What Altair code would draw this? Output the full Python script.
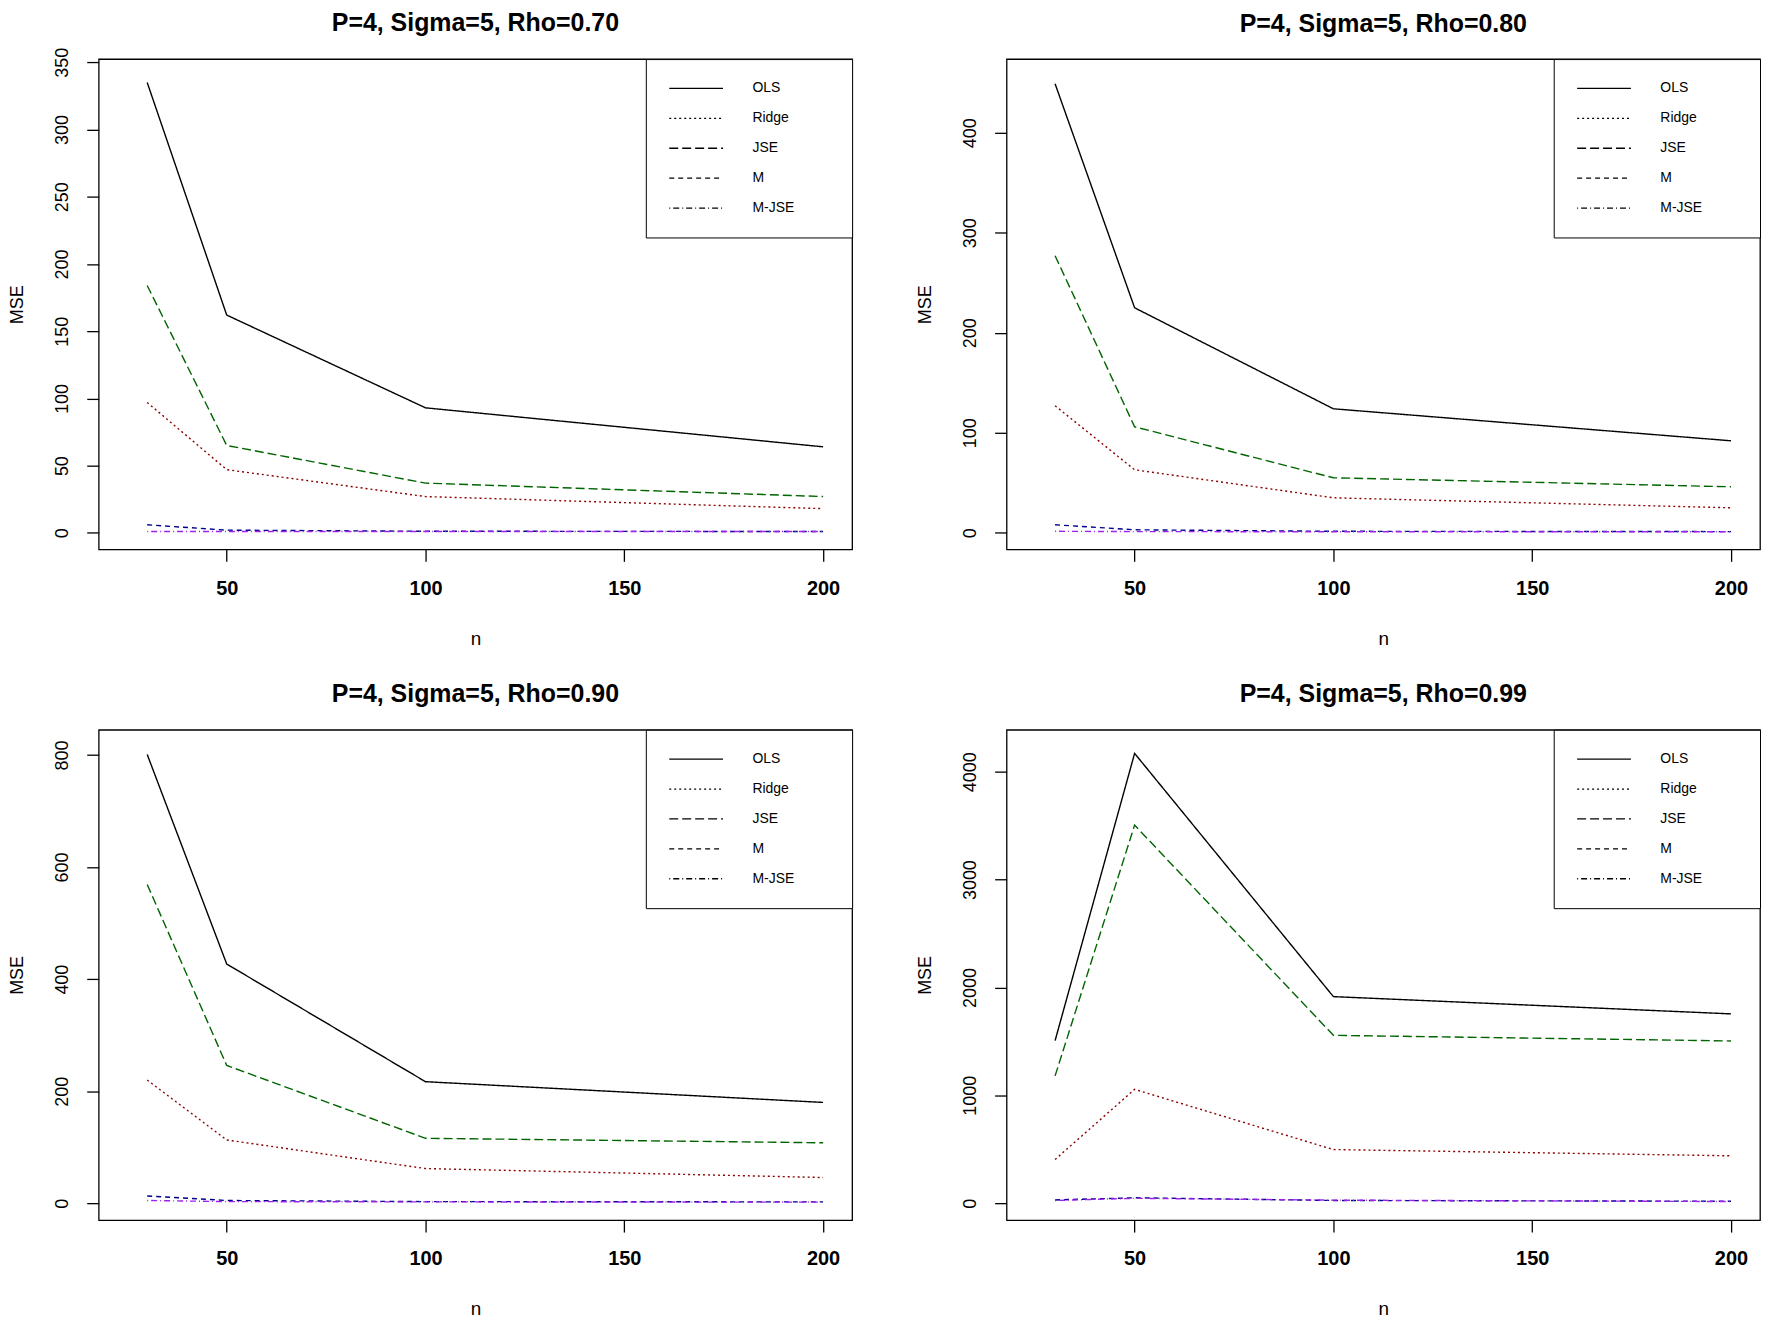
import altair as alt
import pandas as pd

n_values = [30, 50, 100, 200]
series_names = ["OLS", "Ridge", "JSE", "M", "M-JSE"]
series_colors = ["#000000", "#8B0000", "#006400", "#00008B", "#A020F0"]
series_dashes = [[1, 0], [2, 3], [9, 4], [5, 4], [1, 3, 6, 3]]

titles = [
    "P=4, Sigma=5, Rho=0.70",
    "P=4, Sigma=5, Rho=0.80",
    "P=4, Sigma=5, Rho=0.90",
    "P=4, Sigma=5, Rho=0.99",
]

# Rho = 0.70
ols_070 = [335, 162, 93, 64]
ridge_070 = [97, 47, 27, 18]
jse_070 = [184, 65, 37, 27]
m_070 = [6, 2, 1.2, 1]
mjse_070 = [1, 1, 1, 1]

# Rho = 0.80
ols_080 = [449, 225, 124, 92]
ridge_080 = [127, 63, 35, 25]
jse_080 = [277, 106, 55, 46]
m_080 = [8, 3, 1.5, 1.2]
mjse_080 = [1.5, 1.2, 1, 1]

# Rho = 0.90
ols_090 = [801, 427, 217, 180]
ridge_090 = [220, 113, 62, 46]
jse_090 = [569, 246, 116, 108]
m_090 = [13, 5, 3, 2.5]
mjse_090 = [5, 3, 2.5, 2]

# Rho = 0.99
ols_099 = [1507, 4170, 1915, 1755]
ridge_099 = [405, 1055, 497, 439]
jse_099 = [1180, 3505, 1556, 1504]
m_099 = [30, 50, 25, 18]
mjse_099 = [25, 45, 28, 15]

panel_values = [
    [ols_070, ridge_070, jse_070, m_070, mjse_070],
    [ols_080, ridge_080, jse_080, m_080, mjse_080],
    [ols_090, ridge_090, jse_090, m_090, mjse_090],
    [ols_099, ridge_099, jse_099, m_099, mjse_099],
]

y_domains = [[-12.3, 352.4], [-16.6, 473.7], [-30, 845], [-157, 4389]]
y_ticks = [
    [0, 50, 100, 150, 200, 250, 300, 350],
    [0, 100, 200, 300, 400],
    [0, 200, 400, 600, 800],
    [0, 1000, 2000, 3000, 4000],
]
# the top "350" label of the first panel pokes above the frame; compensate
title_offsets = [11, 22, 22, 22]
x_domain = [17.8, 207.3]
x_ticks = [50, 100, 150, 200]

FONT = "Liberation Sans"


def panel(i):
    rows = []
    for s, vals in zip(series_names, panel_values[i]):
        for n, v in zip(n_values, vals):
            rows.append({"n": n, "series": s, "series_c": s, "mse": v})
    df = pd.DataFrame(rows)
    return (
        alt.Chart(
            df,
            title=alt.TitleParams(
                titles[i], font=FONT, fontSize=25, fontWeight="bold",
                anchor="middle", offset=title_offsets[i], color="black",
            ),
        )
        .mark_line(strokeWidth=1.4, clip=True)
        .encode(
            x=alt.X(
                "n:Q",
                scale=alt.Scale(domain=x_domain, nice=False, zero=False),
                axis=alt.Axis(
                    values=x_ticks, title="n", labelFont=FONT, labelFontSize=20,
                    labelFontWeight="bold", labelPadding=17, titleFont=FONT,
                    titleFontSize=19, titleFontWeight="normal", titlePadding=31,
                ),
            ),
            y=alt.Y(
                "mse:Q",
                scale=alt.Scale(domain=y_domains[i], nice=False, zero=False),
                axis=alt.Axis(
                    values=y_ticks[i], format="d", title="MSE", labelFont=FONT,
                    labelFontSize=18, labelAngle=270, labelAlign="center",
                    labelBaseline="bottom", labelPadding=15, titleFont=FONT,
                    titleFontSize=18, titleFontWeight="normal", titlePadding=27,
                ),
            ),
            color=alt.Color(
                "series_c:N",
                sort=series_names,
                scale=alt.Scale(range=series_colors),
                legend=None,
            ),
            strokeDash=alt.StrokeDash(
                "series:N",
                scale=alt.Scale(domain=series_names, range=series_dashes),
                legend=alt.Legend(
                    title=".", titleColor="white", titleFontSize=14,
                    titleOrient="right", titlePadding=32,
                    orient="top-right", offset=0,
                    strokeColor="black", fillColor="white", padding=22,
                    symbolType="M-4,0H4", symbolSize=182,
                    symbolOffset=21,
                    symbolStrokeWidth=1.3, symbolStrokeColor="black",
                    symbolFillColor="transparent",
                    labelFont=FONT, labelFontSize=14, labelColor="black",
                    labelOffset=49, rowPadding=15,
                ),
            ),
        )
        .properties(width=756, height=492)
    )


row1 = alt.hconcat(panel(0), panel(1), spacing=62).resolve_scale(
    strokeDash="independent", color="independent"
).resolve_legend(strokeDash="independent")
row2 = alt.hconcat(panel(2), panel(3), spacing=62).resolve_scale(
    strokeDash="independent", color="independent"
).resolve_legend(strokeDash="independent")

chart = (
    alt.vconcat(row1, row2, spacing=32)
    .resolve_scale(strokeDash="independent", color="independent")
    .resolve_legend(strokeDash="independent")
    .properties(padding=0)
    .configure(background="white")
    .configure_view(stroke="black", strokeWidth=1.3)
    .configure_axis(
        grid=False, domain=False, tickColor="black", tickSize=12,
        tickWidth=1.3, labelColor="black", titleColor="black",
    )
)

chart.save("out.html", embed_options={"renderer": "svg", "actions": False})
